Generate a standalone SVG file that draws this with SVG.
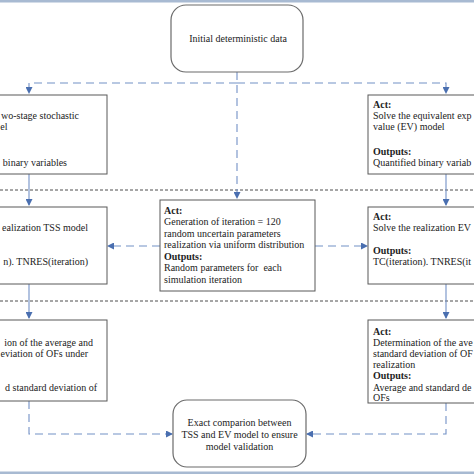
<svg xmlns="http://www.w3.org/2000/svg" width="474" height="474" viewBox="0 0 474 474">
<defs>
<marker id="ah" markerWidth="7" markerHeight="7" refX="6" refY="3.5" orient="auto" markerUnits="userSpaceOnUse"><path d="M0,0 L7,3.5 L0,7 Z" fill="#4a6fb0"/></marker>
</defs>
<style>
.box{fill:#fff;stroke:#595959;stroke-width:1}
.rbox{fill:#fff;stroke:#6b6b6b;stroke-width:1.2}
text{font-family:"Liberation Serif","Times New Roman",serif;font-size:10px;fill:#222}
.b{font-weight:bold}
.e{text-anchor:end}
.m{text-anchor:middle}
.c{stroke:#7391c6;stroke-width:1.1;fill:none}
.d{stroke-dasharray:8 5}
.sep{stroke:#4d4d4d;stroke-width:1;stroke-dasharray:3 2;fill:none}
</style>
<rect x="0" y="0" width="474" height="474" fill="#fff"/>
<rect x="0" y="0" width="474" height="2.5" fill="#a8bad2"/>
<rect x="0" y="471.5" width="474" height="2.5" fill="#a8bad2"/>
<g id="separators">
<line class="sep" x1="0" y1="190" x2="474" y2="190"/>
<line class="sep" x1="0" y1="301" x2="474" y2="301"/>
</g>
<g id="connectors">
<path class="c d" d="M237,72 V198" marker-end="url(#ah)"/>
<path class="c d" d="M237,83 H29 V93" marker-end="url(#ah)"/>
<path class="c d" d="M237,83 H446 V93" marker-end="url(#ah)"/>
<path class="c" d="M29,174 V205" marker-end="url(#ah)"/>
<path class="c" d="M446,174 V205" marker-end="url(#ah)"/>
<path class="c d" d="M160,246 H108" marker-end="url(#ah)"/>
<path class="c d" d="M315,246 H367" marker-end="url(#ah)"/>
<path class="c" d="M29,284 V318" marker-end="url(#ah)"/>
<path class="c" d="M446,284 V318" marker-end="url(#ah)"/>
<path class="c d" d="M29,401 V434 H172" marker-end="url(#ah)"/>
<path class="c d" d="M446,403 V434 H307" marker-end="url(#ah)"/>
</g>
<g id="n-initial">
<rect class="rbox" x="171" y="5" width="132" height="67" rx="15"/>
<text class="m" x="238" y="41.5">Initial deterministic data</text>
</g>
<g id="n-tss-solve">
<rect class="box" x="-2" y="95" width="109" height="79"/>
<text class="e" x="79" y="119">wo-stage stochastic</text>
<text class="e" x="7.5" y="130">el</text>
<text class="e" x="67" y="166">binary variables</text>
</g>
<g id="n-ev-solve">
<rect class="box" x="368" y="95" width="110" height="79"/>
<text class="b" x="373" y="107.5">Act:</text>
<text x="373" y="118.5">Solve the equivalent exp</text>
<text x="373" y="129.5">value (EV) model</text>
<text class="b" x="373" y="154.5">Outputs:</text>
<text x="373" y="165.5">Quantified binary variab</text>
</g>
<g id="n-generation">
<rect class="box" x="160" y="200" width="155" height="91"/>
<text class="b" x="164" y="213.5">Act:</text>
<text x="164" y="225">Generation of iteration = 120</text>
<text x="164" y="236.5">random uncertain parameters</text>
<text x="164" y="248">realization via uniform distribution</text>
<text class="b" x="164" y="259.5">Outputs:</text>
<text x="164" y="271" xml:space="preserve">Random parameters for  each</text>
<text x="164" y="282.5">simulation iteration</text>
</g>
<g id="n-tss-real">
<rect class="box" x="-2" y="207" width="109" height="77"/>
<text class="e" x="88" y="230.5">ealization TSS model</text>
<text class="e" x="88" y="264.5">n). TNRES(iteration)</text>
</g>
<g id="n-ev-real">
<rect class="box" x="368" y="207" width="110" height="77"/>
<text class="b" x="373" y="219.5">Act:</text>
<text x="373" y="230.5">Solve the realization EV</text>
<text class="b" x="373" y="253.5">Outputs:</text>
<text x="373" y="264.5">TC(iteration). TNRES(it</text>
</g>
<g id="n-tss-stat">
<rect class="box" x="-2" y="320" width="109" height="81"/>
<text class="e" x="93" y="345.5">ion of the average and</text>
<text class="e" x="88" y="357">eviation of OFs under</text>
<text class="e" x="97" y="391">d standard deviation of</text>
</g>
<g id="n-ev-stat">
<rect class="box" x="368" y="320" width="110" height="83"/>
<text class="b" x="373" y="334.5">Act:</text>
<text x="373" y="345.5">Determination of the ave</text>
<text x="373" y="356.5">standard deviation of OF</text>
<text x="373" y="367.5">realization</text>
<text class="b" x="373" y="379">Outputs:</text>
<text x="373" y="391">Average and standard de</text>
<text x="373" y="401">OFs</text>
</g>
<g id="n-compare">
<rect class="rbox" x="173" y="400" width="133" height="67" rx="14"/>
<text class="m" x="239.5" y="425.5">Exact comparion between</text>
<text class="m" x="239.5" y="437.5">TSS and EV model to ensure</text>
<text class="m" x="239.5" y="449.5">model validation</text>
</g>
</svg>
